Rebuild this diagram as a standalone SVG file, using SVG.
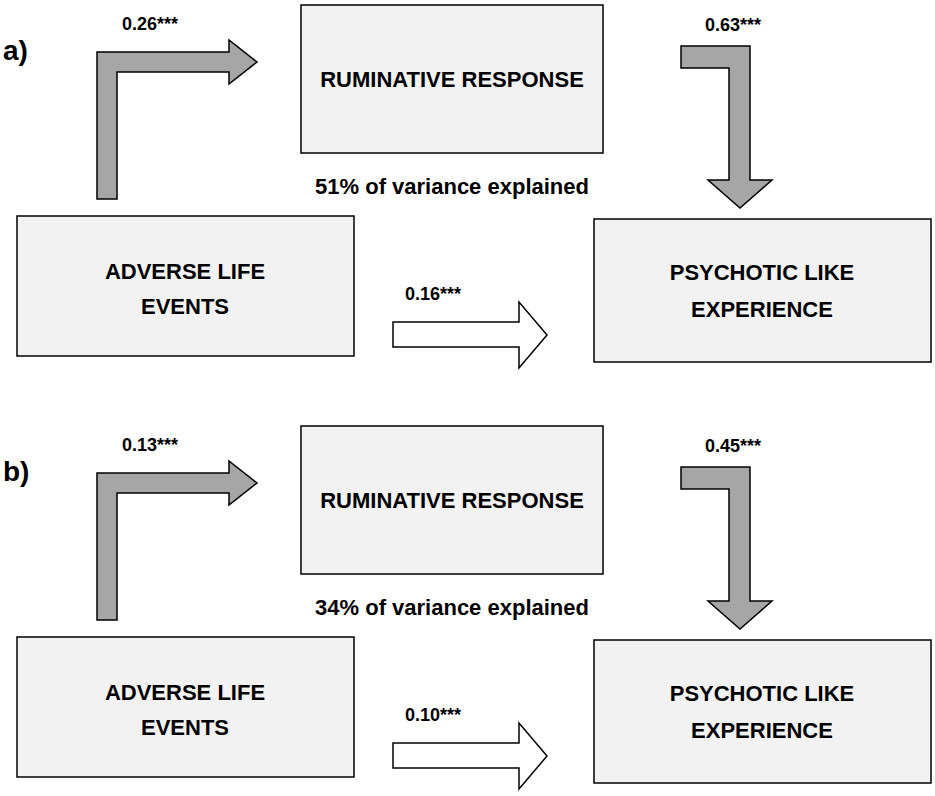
<svg xmlns="http://www.w3.org/2000/svg" width="935" height="796" viewBox="0 0 935 796">
<style>
.box{fill:#f2f2f2;stroke:#000;stroke-width:1.5}
.ga{fill:#a6a6a6;stroke:#000;stroke-width:1.5}
.wa{fill:#fff;stroke:#000;stroke-width:1.5}
text{font-family:"Liberation Sans",Arial,sans-serif;font-weight:bold;fill:#000}
.lab{font-size:22px;text-anchor:middle}
.num{font-size:18px}
.pl{font-size:28px}
</style>
<rect width="935" height="796" fill="#fff"/>
<defs>
<g id="panel">
<g id="connectors">
<path class="ga" d="M97,199 V52 H229 V40 L257,62 L229,84 V72 H117 V199 Z"/>
<path class="ga" d="M681,46 H750 V180 H772 L740,208 L708,180 H729 V68 H681 Z"/>
<path class="wa" d="M393,322 H519 V302 L547,335 L519,368 V347 H393 Z"/>
</g>
<rect class="box" x="301" y="5" width="302" height="148"/>
<rect class="box" x="17" y="216" width="337" height="140"/>
<rect class="box" x="594" y="219" width="337" height="143"/>
<text class="lab" x="452" y="87">RUMINATIVE RESPONSE</text>
<text class="lab" x="185" y="279">ADVERSE LIFE</text>
<text class="lab" x="185" y="314">EVENTS</text>
<text class="lab" x="762" y="280">PSYCHOTIC LIKE</text>
<text class="lab" x="762" y="317">EXPERIENCE</text>
</g>
</defs>
<g id="panel-a">
<use href="#panel"/>
<text class="pl" x="3" y="60">a)</text>
<text class="num" x="122" y="30">0.26***</text>
<text class="num" x="705" y="31">0.63***</text>
<text class="num" x="405" y="300">0.16***</text>
<text class="lab" x="452" y="194">51% of variance explained</text>
</g>
<g id="panel-b">
<use href="#panel" y="421"/>
<text class="pl" x="3" y="481">b)</text>
<text class="num" x="122" y="451">0.13***</text>
<text class="num" x="705" y="452">0.45***</text>
<text class="num" x="405" y="721">0.10***</text>
<text class="lab" x="452" y="615">34% of variance explained</text>
</g>
</svg>
